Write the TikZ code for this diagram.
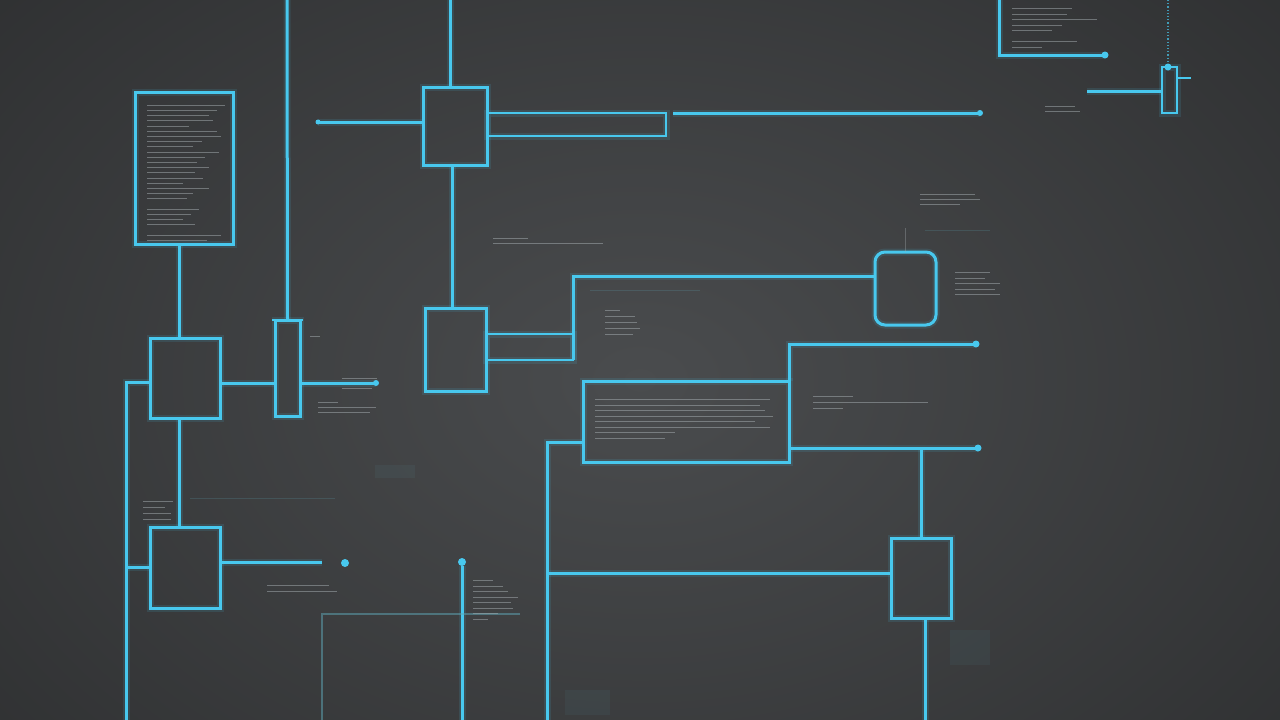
\documentclass[tikz,border=0pt]{standalone}
\usetikzlibrary{calc}
\definecolor{bgdark}{HTML}{1E1F20}
\definecolor{bgmid}{HTML}{4A4C4E}
\definecolor{wire}{HTML}{48C8EE}
\definecolor{txtc}{HTML}{A8B0B4}
\definecolor{faint}{HTML}{5FA8B8}
\tikzset{
  wirestyle/.style={draw=wire, line width=3pt, preaction={draw=wire, line width=7pt, opacity=0.12}},
  boxn/.style={wirestyle, fill=none, inner sep=0pt, outer sep=0pt, shape=rectangle},
  dotn/.style={circle, fill=wire, inner sep=0pt, minimum size=8pt},
  txt/.style={draw=txtc, line width=0.9pt, opacity=0.5},
  faintline/.style={draw=faint, line width=1.2pt, opacity=0.5},
}
\newcommand\tlines[4]{\foreach \l [count=\i] in {#4} {\draw[txt] (#1,#2+\i*#3) -- ++(\l,0);}}
\begin{document}
\begin{tikzpicture}[x=1pt,y=-1pt]
\useasboundingbox (0,0) rectangle (1280,720);
\fill[bgdark] (0,0) rectangle (1280,720);
\begin{scope}
\clip (0,0) rectangle (1280,720);
\shade[inner color=bgmid, outer color=bgdark] (640,380) ellipse (1420 and 1000);
\end{scope}

% ---------- nodes ----------
\node[boxn, minimum width=98pt, minimum height=152pt] (b1) at (184,168) {};
\node[boxn, minimum width=70pt, minimum height=80pt] (b2) at (185,378) {};
\node[boxn, minimum width=70pt, minimum height=81pt] (b3) at (185,567.5) {};
\node[boxn, minimum width=25pt, minimum height=96pt] (n1) at (287.5,368) {};
\node[boxn, minimum width=64pt, minimum height=78pt] (A) at (455,126) {};
\node[boxn, minimum width=61pt, minimum height=83pt] (B) at (455.5,349.5) {};
\node[boxn, line width=2.6pt, minimum width=179pt, minimum height=23pt] (R1) at (576.5,124.5) {};
\node[boxn, line width=2.6pt, minimum width=87pt, minimum height=26pt] (R2) at (529.5,347) {};
\node[boxn, rounded corners=10pt, minimum width=61pt, minimum height=73pt] (RB) at (905.5,288.5) {};
\node[boxn, minimum width=206pt, minimum height=81pt] (W) at (686,421.5) {};
\node[boxn, minimum width=60pt, minimum height=80pt] (C) at (921,578) {};
\node[boxn, line width=2.5pt, minimum width=15pt, minimum height=46pt] (S) at (1169.5,90) {};

% ---------- coordinates ----------
\coordinate (lb) at (126,720);
\coordinate (lbtop) at (126,382);
\coordinate (n1t) at (287,0);
\coordinate (n1o) at (376,383);
\coordinate (b3o) at (322,562);
\coordinate (At) at (450,0);
\coordinate (Al) at (318,122);
\coordinate (R1o) at (980,113);
\coordinate (R1s) at (673,113);
\coordinate (wb) at (547,720);
\coordinate (cj) at (547,573);
\coordinate (rd1) at (976,344);
\coordinate (rd2) at (978,448);
\coordinate (Cb) at (925,720);
\coordinate (tr0) at (999,0);
\coordinate (tr1) at (1105,55);
\coordinate (Sl) at (1087,91);
\coordinate (St) at (1168,0);
\coordinate (Sr) at (1191,78);
\coordinate (d2b) at (462,720);
\coordinate (fl0) at (322,720);
\coordinate (fl1) at (520,614);
\coordinate (RBt) at (905,228);

\node[dotn] (d1) at (345,563) {};
\node[dotn] (d2) at (462,562) {};

% ---------- connectors ----------
\draw[wirestyle] ([xshift=-5pt]b1.south) -- ([xshift=-6pt]b2.north);
\draw[wirestyle] ([xshift=-6pt]b2.south) -- ([xshift=-6pt]b3.north);
\draw[wirestyle] (lb) -- (lbtop) -- (lbtop -| b2.west);
\draw[wirestyle] (b3.west -| lb) -- (b3.west);
\draw[wirestyle] ([yshift=-5pt]b2.east) -- ([yshift=-15pt]n1.west);
\draw[wirestyle] ([yshift=-15pt]n1.east) -- (n1o);
\fill[wire] (n1o) circle (3pt);
\draw[wirestyle] (n1t) -- (n1.north);
\draw[wire, line width=2pt] ([xshift=-3pt]n1.north west) -- ([xshift=3pt]n1.north east);
\draw[wirestyle] ([yshift=5.5pt]b3.east) -- (b3o);
\draw[wirestyle] (d2) -- (d2b);
\draw[faintline] (fl0) |- (fl1);

\draw[wirestyle] (At) -- ([xshift=-5pt]A.north);
\draw[wirestyle] ([xshift=-3pt]A.south) -- ([xshift=-3.5pt]B.north);
\draw[wirestyle] (Al) -- ([yshift=4pt]A.west);
\fill[wire] (Al) circle (2.5pt);
\draw[wirestyle] (R1s) -- (R1o);
\fill[wire] (R1o) circle (3pt);
\draw[wirestyle] (R2.south east) |- ([yshift=12.5pt]RB.west);
\draw[draw=txtc, line width=1pt, opacity=0.35] (RBt) -- (RB.north -| RBt);

\draw[wirestyle] (wb) |- ([yshift=-20.5pt]W.west);
\draw[wirestyle] (cj) -- ([yshift=5pt]C.west);
\draw[wirestyle] (W.north east) |- (rd1);
\fill[wire] (rd1) circle (3.5pt);
\draw[wirestyle] ([yshift=-26.5pt]W.east) -- (rd2);
\fill[wire] (rd2) circle (3.5pt);
\draw[wirestyle] (C.north |- rd2) -- (C.north);
\draw[wirestyle] ([xshift=4pt]C.south) -- (Cb);

\draw[wirestyle] (tr0) |- (tr1);
\fill[wire] (tr1) circle (3.5pt);
\draw[wirestyle] (Sl) -- (S.west |- Sl);
\draw[wire, line width=1.2pt, dotted, opacity=0.7] (St) -- (S.north -| St);
\fill[wire] (S.north -| St) circle (3.5pt);
\draw[wire, line width=1.5pt] (S.north east |- Sr) -- (Sr);

% ---------- faint text ----------
\tlines{147}{100}{5.2}{78,70,62,66,42,70,74,55,46,72,58,50,62,48,56,36,62,46,40,0,52,44,36,48,0,74,60}
\tlines{1012}{3}{5.5}{60,55,85,50,40,0,65,30}
\tlines{920}{189}{5}{55,60,40}
\tlines{955}{267}{5.5}{35,30,45,40,45}
\tlines{605}{304}{6}{15,30,32,35,28}
\tlines{595}{394}{5.5}{175,165,170,178,160,175,80,70}
\tlines{813}{390}{6}{40,115,30}
\tlines{318}{397}{5}{20,58,52}
\tlines{342}{373}{5}{35,0,30}
\tlines{143}{495}{6}{30,22,28,28}
\tlines{267}{580}{5.5}{62,70}
\tlines{473}{575}{5.5}{20,30,35,45,38,40,25,15}
\tlines{310}{331}{5}{10}
\tlines{493}{233}{5}{35,110}
\tlines{1045}{101}{5}{30,35}
\draw[faintline, opacity=0.2, line width=1pt] (190,498) -- (335,498);
\draw[faintline, opacity=0.2, line width=1pt] (590,290) -- (700,290);
\draw[faintline, opacity=0.2, line width=1pt] (925,230) -- (990,230);
\fill[faint, opacity=0.07] (950,630) rectangle (990,665);
\fill[faint, opacity=0.07] (565,690) rectangle (610,715);
\fill[faint, opacity=0.07] (375,465) rectangle (415,478);
\end{tikzpicture}
\end{document}
